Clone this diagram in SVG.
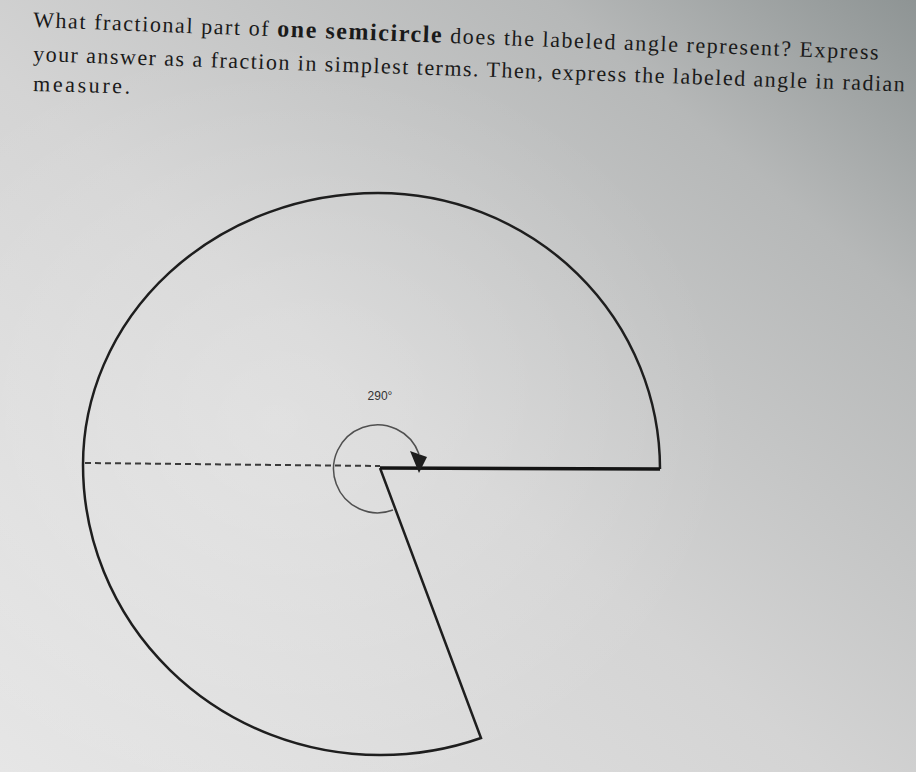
<svg xmlns="http://www.w3.org/2000/svg" width="916" height="772" viewBox="0 0 916 772">
  <defs>
    <linearGradient id="bg" x1="0" y1="1" x2="1" y2="0">
      <stop offset="0" stop-color="#e6e6e6"/>
      <stop offset="0.45" stop-color="#d4d4d4"/>
      <stop offset="0.8" stop-color="#b6b8b8"/>
      <stop offset="1" stop-color="#8e9494"/>
    </linearGradient>
    <radialGradient id="hl" cx="0.3" cy="0.55" r="0.5">
      <stop offset="0" stop-color="#ffffff" stop-opacity="0.25"/>
      <stop offset="1" stop-color="#ffffff" stop-opacity="0"/>
    </radialGradient>
    <style>
      .q { font-family: "Liberation Serif", "DejaVu Serif", serif; font-size: 22px; fill: #1a1a1a; }
      .b { font-weight: bold; font-size: 24px; }
      .edge { fill: none; stroke: #1e1e1e; stroke-width: 2.5; stroke-linejoin: miter; }
      .ray { fill: none; stroke: #141414; stroke-width: 3.5; }
      .dash { fill: none; stroke: #3a3a3a; stroke-width: 2; stroke-dasharray: 6 4; }
      .ang { fill: none; stroke: #505050; stroke-width: 1.5; }
      .head { fill: #1e1e1e; }
      .lbl { font-family: "Liberation Sans", "DejaVu Sans", sans-serif; font-size: 12px; fill: #333; text-anchor: middle; }
    </style>
  </defs>
  <rect x="0" y="0" width="916" height="772" fill="url(#bg)"/>
  <rect x="0" y="0" width="916" height="772" fill="url(#hl)"/>

  <g id="question">
    <text class="q" x="33" y="27" transform="rotate(2.2 33 27)" textLength="846" lengthAdjust="spacing">What fractional part of <tspan class="b">one semicircle</tspan> does the labeled angle represent? Express</text>
    <text class="q" x="33" y="61" transform="rotate(2.0 33 61)" textLength="872" lengthAdjust="spacing">your answer as a fraction in simplest terms. Then, express the labeled angle in radian</text>
    <text class="q" x="33" y="91" transform="rotate(1.5 33 91)" textLength="97" lengthAdjust="spacing">measure.</text>
  </g>

  <g id="sector">
    <path class="edge" d="M 660 469 A 282 276 0 0 0 378 193 A 295 272 0 0 0 83 465 A 297 290 0 0 0 380 755 A 297 290 0 0 0 481 738 L 380 468"/>
  </g>

  <g id="connectors">
    <line class="dash" x1="85" y1="463" x2="380" y2="466"/>
    <line class="ray" x1="380" y1="468" x2="660" y2="469"/>
  </g>

  <g id="angle-mark">
    <path class="ang" d="M 393 510 A 44 44 0 1 1 419 454"/>
    <polygon class="head" points="410,451 427,457 419,473"/>
    <text class="lbl" x="380" y="400">290°</text>
  </g>
</svg>
